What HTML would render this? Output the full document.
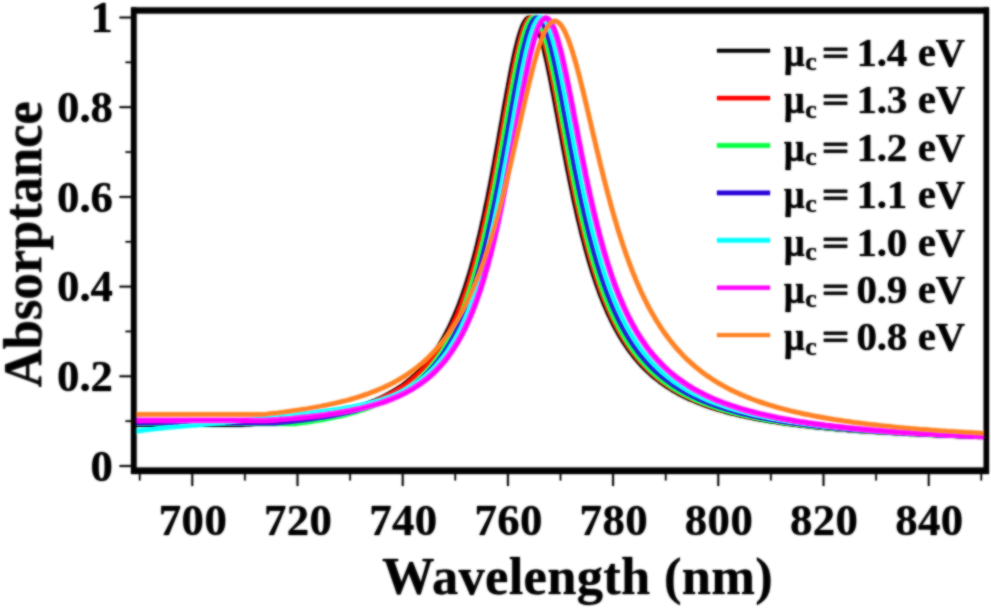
<!DOCTYPE html>
<html><head><meta charset="utf-8"><title>Absorptance vs Wavelength</title>
<style>
html,body{margin:0;padding:0;background:#fff;}
body{width:991px;height:609px;overflow:hidden;}
svg{display:block;}
svg text{font-family:"Liberation Serif","Times New Roman",serif;font-weight:bold;fill:#000;}
</style></head><body>
<svg width="991" height="609" viewBox="0 0 991 609">
<defs><filter id="soft" x="0" y="0" width="991" height="609" filterUnits="userSpaceOnUse"><feGaussianBlur stdDeviation="0.8"/></filter></defs>
<rect width="991" height="609" fill="#fff"/>
<use href="#chart" filter="url(#soft)"/>
<g opacity="0.45"><g id="chart">
<g id="curves">
<polyline points="136.0,425.2 138.8,425.2 141.7,425.2 144.5,425.2 147.4,425.2 150.2,425.2 153.0,425.2 155.9,425.2 158.7,425.2 161.5,425.2 164.4,425.2 167.2,425.2 170.1,425.2 172.9,425.2 175.7,425.2 178.6,425.2 181.4,425.2 184.2,425.2 187.1,425.2 189.9,425.2 192.8,425.2 195.6,425.2 198.4,425.2 201.3,425.2 204.1,425.2 206.9,425.2 209.8,425.2 212.6,425.2 215.5,425.2 218.3,425.2 221.1,425.2 224.0,425.2 226.8,425.2 229.6,425.2 232.5,425.2 235.3,425.2 238.2,425.2 241.0,425.1 243.8,424.9 246.7,424.7 249.5,424.5 252.3,424.3 255.2,424.0 258.0,423.8 260.9,423.5 263.7,423.3 266.5,423.0 269.4,422.7 272.2,422.4 275.1,422.1 277.9,421.8 280.7,421.5 283.6,421.2 286.4,420.9 289.2,420.5 292.1,420.2 294.9,419.8 297.8,419.4 300.6,419.0 303.4,418.6 306.3,418.2 309.1,417.7 311.9,417.2 314.8,416.8 317.6,416.3 320.5,415.8 323.3,415.2 326.1,414.7 329.0,414.1 331.8,413.5 334.6,412.8 337.5,412.2 340.3,411.5 343.2,410.8 346.0,410.0 348.8,409.3 351.7,408.5 354.5,407.6 357.3,406.7 360.2,405.8 363.0,404.8 365.9,403.8 368.7,402.7 371.5,401.6 374.4,400.5 377.2,399.2 380.1,397.9 382.9,396.6 385.7,395.1 388.6,393.6 391.4,392.0 394.2,390.3 397.1,388.5 399.9,386.7 402.8,384.7 405.6,382.6 408.4,380.3 411.3,378.0 414.1,375.5 416.9,372.8 419.8,369.9 422.6,366.9 425.5,363.7 428.3,360.3 431.1,356.6 434.0,352.7 436.8,348.5 439.6,344.1 442.5,339.3 445.3,334.2 448.2,328.7 451.0,322.8 453.8,316.5 455.3,313.1 456.2,310.8 456.7,309.7 457.2,308.5 458.1,306.2 459.0,303.8 459.5,302.5 459.9,301.4 460.9,298.8 461.8,296.3 462.3,294.7 462.7,293.7 463.6,291.0 464.6,288.2 465.2,286.3 465.5,285.4 466.4,282.5 467.3,279.6 468.0,277.3 468.3,276.6 469.2,273.5 470.1,270.4 470.9,267.7 471.0,267.2 472.0,263.9 472.9,260.5 473.7,257.5 473.8,257.1 474.7,253.6 475.7,250.0 476.5,246.5 476.6,246.3 477.5,242.6 478.4,238.8 479.4,234.9 479.4,234.8 480.3,230.9 481.2,226.9 482.1,222.7 482.2,222.4 483.1,218.5 484.0,214.3 484.9,209.9 485.0,209.2 485.8,205.5 486.8,201.0 487.7,196.4 487.9,195.4 488.6,191.7 489.5,187.0 490.5,182.2 490.7,180.8 491.4,177.4 492.3,172.5 493.2,167.5 493.6,165.7 494.2,162.5 495.1,157.4 496.0,152.3 496.4,150.1 496.9,147.2 497.9,142.0 498.8,136.8 499.2,134.2 499.7,131.5 500.6,126.3 501.6,121.0 502.1,118.1 502.5,115.8 503.4,110.6 504.3,105.3 504.9,102.1 505.3,100.2 506.2,95.0 507.1,90.0 507.8,86.5 508.0,85.0 509.0,80.0 509.9,75.2 510.6,71.6 510.8,70.5 511.7,65.9 512.7,61.4 513.4,57.8 513.6,57.1 514.5,52.9 515.4,48.9 516.3,45.5 516.4,45.1 517.3,41.5 518.2,38.1 519.1,35.0 519.1,34.9 520.1,31.9 521.0,29.2 521.9,26.8 521.9,26.7 522.8,24.6 523.8,22.7 524.7,21.1 524.8,21.0 525.6,19.8 526.5,18.8 527.5,18.0 527.6,17.9 528.4,17.6 529.3,17.5 530.2,17.7 530.5,17.8 531.2,18.1 532.1,18.9 533.0,19.9 533.3,20.2 533.9,21.1 534.9,22.7 535.8,24.5 536.1,25.2 536.7,26.6 537.6,28.9 538.6,31.4 539.0,32.6 539.5,34.2 540.4,37.2 541.3,40.3 541.8,42.0 542.3,43.7 543.2,47.3 544.1,51.1 544.6,53.3 545.0,55.0 546.0,59.0 546.9,63.2 547.5,66.0 547.8,67.5 548.7,72.0 549.7,76.5 550.3,79.8 550.6,81.1 551.5,85.8 552.4,90.6 553.2,94.3 553.4,95.4 554.3,100.3 555.2,105.2 556.0,109.4 556.1,110.2 557.1,115.1 558.0,120.1 558.8,124.6 558.9,125.1 559.8,130.0 560.8,135.0 561.7,139.8 561.7,139.9 562.6,144.8 563.5,149.7 564.5,154.6 564.5,154.8 565.4,159.4 566.3,164.2 567.2,168.9 567.3,169.4 568.2,173.5 569.1,178.2 570.0,182.7 570.2,183.5 570.9,187.2 571.9,191.6 572.8,196.0 573.0,197.1 573.7,200.3 574.6,204.6 575.6,208.7 575.9,210.0 576.5,212.8 577.4,216.9 578.3,220.8 578.7,222.3 579.3,224.7 580.2,228.5 581.1,232.3 581.5,234.0 582.0,236.0 583.0,239.6 583.9,243.1 584.4,245.0 584.8,246.6 585.7,250.0 586.7,253.4 587.2,255.3 587.6,256.7 588.5,259.9 589.4,263.0 590.0,265.0 590.4,266.1 591.3,269.1 592.2,272.1 592.9,274.2 593.1,275.0 594.1,277.8 595.0,280.6 595.7,282.7 595.9,283.3 596.8,285.9 597.8,288.5 598.6,290.7 598.7,291.1 599.6,293.6 600.5,296.0 601.4,298.2 601.5,298.4 602.4,300.8 603.3,303.0 604.2,305.3 604.2,305.3 605.2,307.5 606.1,309.6 607.0,311.7 607.1,311.9 607.9,313.8 608.9,315.8 609.8,317.8 609.9,318.0 610.7,319.7 611.6,321.6 612.6,323.4 612.7,323.8 613.5,325.3 614.4,327.0 615.3,328.8 615.6,329.2 616.3,330.5 617.2,332.1 618.1,333.8 618.4,334.3 619.0,335.4 620.0,336.9 620.9,338.5 621.3,339.1 621.8,340.0 622.7,341.4 623.7,342.9 624.1,343.5 624.6,344.3 625.5,345.7 626.4,347.0 626.9,347.8 627.4,348.4 628.3,349.7 629.2,351.0 629.8,351.7 630.1,352.2 631.1,353.4 632.0,354.6 632.6,355.4 632.9,355.8 633.8,357.0 634.8,358.1 635.5,358.9 635.7,359.2 636.6,360.3 637.5,361.4 638.3,362.3 638.5,362.5 639.4,363.5 641.1,365.4 644.0,368.3 646.8,371.1 649.6,373.7 652.5,376.2 655.3,378.6 658.2,380.8 661.0,383.0 663.8,385.0 666.7,386.9 669.5,388.7 672.3,390.5 675.2,392.1 678.0,393.7 680.9,395.2 683.7,396.7 686.5,398.1 689.4,399.4 692.2,400.6 695.0,401.8 697.9,403.0 700.7,404.1 703.6,405.2 706.4,406.2 709.2,407.2 712.1,408.1 714.9,409.0 717.7,409.9 720.6,410.7 723.4,411.5 726.3,412.3 729.1,413.1 731.9,413.8 734.8,414.5 737.6,415.2 740.4,415.8 743.3,416.5 746.1,417.1 749.0,417.7 751.8,418.2 754.6,418.8 757.5,419.3 760.3,419.8 763.2,420.3 766.0,420.8 768.8,421.3 771.7,421.8 774.5,422.2 777.3,422.6 780.2,423.1 783.0,423.5 785.9,423.9 788.7,424.3 791.5,424.6 794.4,425.0 797.2,425.4 800.0,425.7 802.9,426.0 805.7,426.4 808.6,426.7 811.4,427.0 814.2,427.3 817.1,427.6 819.9,427.9 822.7,428.2 825.6,428.4 828.4,428.7 831.3,429.0 834.1,429.2 836.9,429.5 839.8,429.7 842.6,429.9 845.4,430.2 848.3,430.4 851.1,430.6 854.0,430.8 856.8,431.0 859.6,431.3 862.5,431.5 865.3,431.7 868.2,431.8 871.0,432.0 873.8,432.2 876.7,432.4 879.5,432.6 882.3,432.7 885.2,432.9 888.0,433.1 890.9,433.2 893.7,433.4 896.5,433.6 899.4,433.7 902.2,433.9 905.0,434.0 907.9,434.2 910.7,434.3 913.6,434.4 916.4,434.6 919.2,434.7 922.1,434.8 924.9,435.0 927.7,435.1 930.6,435.2 933.4,435.3 936.3,435.5 939.1,435.6 941.9,435.7 944.8,435.8 947.6,435.9 950.4,436.0 953.3,436.1 956.1,436.2 959.0,436.3 961.8,436.4 964.6,436.5 967.5,436.6 970.3,436.7 973.1,436.8 976.0,436.9 978.8,437.0 981.7,437.1 984.5,437.2" fill="none" stroke="#000000" stroke-width="3.8" stroke-linejoin="round"/>
<polyline points="136.0,423.8 138.8,423.8 141.7,423.8 144.5,423.8 147.4,423.8 150.2,423.8 153.0,423.8 155.9,423.8 158.7,423.8 161.5,423.8 164.4,423.8 167.2,423.8 170.1,423.8 172.9,423.8 175.7,423.8 178.6,423.8 181.4,423.8 184.2,423.8 187.1,423.8 189.9,423.8 192.8,423.8 195.6,423.8 198.4,423.8 201.3,423.8 204.1,423.8 206.9,423.8 209.8,423.8 212.6,423.8 215.5,423.8 218.3,423.8 221.1,423.8 224.0,423.8 226.8,423.8 229.6,423.8 232.5,423.8 235.3,423.8 238.2,423.8 241.0,423.8 243.8,423.8 246.7,423.8 249.5,423.8 252.3,423.8 255.2,423.8 258.0,423.6 260.9,423.4 263.7,423.1 266.5,422.9 269.4,422.6 272.2,422.3 275.1,422.1 277.9,421.8 280.7,421.5 283.6,421.1 286.4,420.8 289.2,420.5 292.1,420.1 294.9,419.8 297.8,419.4 300.6,419.0 303.4,418.6 306.3,418.2 309.1,417.8 311.9,417.3 314.8,416.9 317.6,416.4 320.5,415.9 323.3,415.4 326.1,414.8 329.0,414.3 331.8,413.7 334.6,413.1 337.5,412.5 340.3,411.8 343.2,411.1 346.0,410.4 348.8,409.7 351.7,408.9 354.5,408.1 357.3,407.2 360.2,406.3 363.0,405.4 365.9,404.4 368.7,403.4 371.5,402.3 374.4,401.2 377.2,400.0 380.1,398.8 382.9,397.5 385.7,396.1 388.6,394.6 391.4,393.1 394.2,391.5 397.1,389.8 399.9,388.0 402.8,386.1 405.6,384.1 408.4,382.0 411.3,379.7 414.1,377.3 416.9,374.8 419.8,372.1 422.6,369.2 425.5,366.2 428.3,362.9 431.1,359.4 434.0,355.7 436.8,351.7 439.6,347.5 442.5,343.0 445.3,338.1 448.2,332.9 451.0,327.3 453.8,321.3 455.3,318.1 456.2,316.0 456.7,314.9 457.2,313.8 458.1,311.6 459.0,309.3 459.5,308.0 459.9,307.0 460.9,304.6 461.8,302.2 462.3,300.6 462.7,299.7 463.6,297.1 464.6,294.5 465.2,292.7 465.5,291.8 466.4,289.1 467.3,286.3 468.0,284.2 468.3,283.5 469.2,280.5 470.1,277.5 470.9,275.1 471.0,274.5 472.0,271.4 472.9,268.2 473.7,265.3 473.8,264.9 474.7,261.6 475.7,258.1 476.5,254.8 476.6,254.6 477.5,251.1 478.4,247.4 479.4,243.7 479.4,243.6 480.3,239.9 481.2,236.1 482.1,232.1 482.2,231.8 483.1,228.1 484.0,224.0 484.9,219.8 485.0,219.1 485.8,215.5 486.8,211.2 487.7,206.8 487.9,205.8 488.6,202.3 489.5,197.7 490.5,193.1 490.7,191.7 491.4,188.4 492.3,183.6 493.2,178.8 493.6,177.0 494.2,173.9 495.1,168.9 496.0,163.9 496.4,161.7 496.9,158.8 497.9,153.7 498.8,148.6 499.2,146.0 499.7,143.4 500.6,138.2 501.6,132.9 502.1,130.0 502.5,127.7 503.4,122.4 504.3,117.2 504.9,113.9 505.3,112.0 506.2,106.7 507.1,101.6 507.8,98.0 508.0,96.4 509.0,91.3 509.9,86.3 510.6,82.5 510.8,81.4 511.7,76.5 512.7,71.7 513.4,67.9 513.6,67.1 514.5,62.6 515.4,58.2 516.3,54.4 516.4,54.0 517.3,50.0 518.2,46.1 519.1,42.5 519.1,42.4 520.1,39.0 521.0,35.7 521.9,32.7 521.9,32.6 522.8,29.9 523.8,27.4 524.7,25.2 524.8,25.0 525.6,23.2 526.5,21.5 527.5,20.1 527.6,19.9 528.4,19.0 529.3,18.2 530.2,17.7 530.5,17.6 531.2,17.5 532.1,17.6 533.0,18.0 533.3,18.1 533.9,18.6 534.9,19.6 535.8,20.8 536.1,21.3 536.7,22.3 537.6,24.0 538.6,26.0 539.0,27.0 539.5,28.2 540.4,30.7 541.3,33.4 541.8,34.9 542.3,36.4 543.2,39.5 544.1,42.9 544.6,44.9 545.0,46.4 546.0,50.1 546.9,54.0 547.5,56.6 547.8,58.0 548.7,62.2 549.7,66.5 550.3,69.6 550.6,70.9 551.5,75.4 552.4,80.1 553.2,83.7 553.4,84.8 554.3,89.5 555.2,94.3 556.0,98.4 556.1,99.2 557.1,104.1 558.0,109.1 558.8,113.6 558.9,114.0 559.8,119.0 560.8,124.0 561.7,128.8 561.7,129.0 562.6,133.9 563.5,138.9 564.5,143.8 564.5,144.0 565.4,148.7 566.3,153.6 567.2,158.4 567.3,158.9 568.2,163.2 569.1,167.9 570.0,172.6 570.2,173.4 570.9,177.2 571.9,181.8 572.8,186.3 573.0,187.4 573.7,190.7 574.6,195.1 575.6,199.4 575.9,200.8 576.5,203.7 577.4,207.9 578.3,212.0 578.7,213.5 579.3,216.0 580.2,220.0 581.1,223.9 581.5,225.7 582.0,227.8 583.0,231.5 583.9,235.2 584.4,237.1 584.8,238.9 585.7,242.4 586.7,245.9 587.2,247.9 587.6,249.3 588.5,252.7 589.4,256.0 590.0,258.1 590.4,259.2 591.3,262.3 592.2,265.4 592.9,267.6 593.1,268.5 594.1,271.4 595.0,274.3 595.7,276.6 595.9,277.2 596.8,280.0 597.8,282.7 598.6,285.0 598.7,285.3 599.6,288.0 600.5,290.5 601.4,292.8 601.5,293.0 602.4,295.5 603.3,297.9 604.2,300.2 604.2,300.2 605.2,302.5 606.1,304.7 607.0,306.9 607.1,307.1 607.9,309.1 608.9,311.2 609.8,313.3 609.9,313.5 610.7,315.3 611.6,317.3 612.6,319.2 612.7,319.6 613.5,321.1 614.4,323.0 615.3,324.8 615.6,325.2 616.3,326.5 617.2,328.3 618.1,330.0 618.4,330.5 619.0,331.7 620.0,333.3 620.9,334.9 621.3,335.5 621.8,336.5 622.7,338.0 623.7,339.5 624.1,340.2 624.6,341.0 625.5,342.4 626.4,343.8 626.9,344.6 627.4,345.2 628.3,346.6 629.2,347.9 629.8,348.7 630.1,349.2 631.1,350.5 632.0,351.8 632.6,352.6 632.9,353.0 633.8,354.2 634.8,355.4 635.5,356.3 635.7,356.6 636.6,357.7 637.5,358.8 638.3,359.7 638.5,359.9 639.4,361.0 641.1,362.9 644.0,366.0 646.8,368.9 649.6,371.6 652.5,374.2 655.3,376.7 658.2,379.0 661.0,381.2 663.8,383.3 666.7,385.3 669.5,387.2 672.3,389.0 675.2,390.7 678.0,392.3 680.9,393.9 683.7,395.4 686.5,396.8 689.4,398.2 692.2,399.5 695.0,400.7 697.9,401.9 700.7,403.1 703.6,404.2 706.4,405.2 709.2,406.2 712.1,407.2 714.9,408.1 717.7,409.0 720.6,409.9 723.4,410.7 726.3,411.5 729.1,412.3 731.9,413.1 734.8,413.8 737.6,414.5 740.4,415.1 743.3,415.8 746.1,416.4 749.0,417.0 751.8,417.6 754.6,418.2 757.5,418.7 760.3,419.3 763.2,419.8 766.0,420.3 768.8,420.8 771.7,421.2 774.5,421.7 777.3,422.1 780.2,422.6 783.0,423.0 785.9,423.4 788.7,423.8 791.5,424.2 794.4,424.6 797.2,424.9 800.0,425.3 802.9,425.6 805.7,426.0 808.6,426.3 811.4,426.6 814.2,426.9 817.1,427.2 819.9,427.5 822.7,427.8 825.6,428.1 828.4,428.4 831.3,428.6 834.1,428.9 836.9,429.1 839.8,429.4 842.6,429.6 845.4,429.9 848.3,430.1 851.1,430.3 854.0,430.5 856.8,430.8 859.6,431.0 862.5,431.2 865.3,431.4 868.2,431.6 871.0,431.8 873.8,432.0 876.7,432.1 879.5,432.3 882.3,432.5 885.2,432.7 888.0,432.9 890.9,433.0 893.7,433.2 896.5,433.3 899.4,433.5 902.2,433.7 905.0,433.8 907.9,434.0 910.7,434.1 913.6,434.2 916.4,434.4 919.2,434.5 922.1,434.7 924.9,434.8 927.7,434.9 930.6,435.0 933.4,435.2 936.3,435.3 939.1,435.4 941.9,435.5 944.8,435.6 947.6,435.7 950.4,435.9 953.3,436.0 956.1,436.1 959.0,436.2 961.8,436.3 964.6,436.4 967.5,436.5 970.3,436.6 973.1,436.7 976.0,436.8 978.8,436.9 981.7,437.0 984.5,437.1" fill="none" stroke="#ff0000" stroke-width="4.2" stroke-linejoin="round"/>
<polyline points="136.0,423.8 138.8,423.8 141.7,423.8 144.5,423.8 147.4,423.8 150.2,423.8 153.0,423.8 155.9,423.8 158.7,423.8 161.5,423.8 164.4,423.8 167.2,423.8 170.1,423.8 172.9,423.8 175.7,423.8 178.6,423.8 181.4,423.8 184.2,423.8 187.1,423.8 189.9,423.8 192.8,423.8 195.6,423.8 198.4,423.8 201.3,423.8 204.1,423.8 206.9,423.8 209.8,423.8 212.6,423.8 215.5,423.8 218.3,423.8 221.1,423.8 224.0,423.8 226.8,423.8 229.6,423.8 232.5,423.8 235.3,423.8 238.2,423.8 241.0,423.8 243.8,423.8 246.7,423.8 249.5,423.8 252.3,423.8 255.2,423.8 258.0,423.8 260.9,423.8 263.7,423.8 266.5,423.8 269.4,423.8 272.2,423.8 275.1,423.8 277.9,423.8 280.7,423.8 283.6,423.8 286.4,423.8 289.2,423.8 292.1,423.8 294.9,423.8 297.8,423.4 300.6,423.1 303.4,422.7 306.3,422.3 309.1,421.9 311.9,421.4 314.8,421.0 317.6,420.5 320.5,420.1 323.3,419.6 326.1,419.0 329.0,418.5 331.8,417.9 334.6,417.3 337.5,416.7 340.3,416.1 343.2,415.4 346.0,414.8 348.8,414.0 351.7,413.3 354.5,412.5 357.3,411.7 360.2,410.8 363.0,409.9 365.9,409.0 368.7,408.0 371.5,407.0 374.4,405.9 377.2,404.8 380.1,403.6 382.9,402.3 385.7,401.0 388.6,399.6 391.4,398.1 394.2,396.6 397.1,395.0 399.9,393.2 402.8,391.4 405.6,389.5 408.4,387.4 411.3,385.3 414.1,383.0 416.9,380.5 419.8,378.0 422.6,375.2 425.5,372.3 428.3,369.2 431.1,365.8 434.0,362.3 436.8,358.5 439.6,354.4 442.5,350.1 445.3,345.4 448.2,340.4 451.0,335.1 453.8,329.4 455.3,326.3 456.2,324.2 456.7,323.2 457.2,322.1 458.1,320.0 459.0,317.8 459.5,316.6 459.9,315.6 460.9,313.3 461.8,311.0 462.3,309.5 462.7,308.6 463.6,306.2 464.6,303.7 465.2,301.9 465.5,301.1 466.4,298.5 467.3,295.8 468.0,293.8 468.3,293.1 469.2,290.3 470.1,287.4 470.9,285.0 471.0,284.4 472.0,281.4 472.9,278.4 473.7,275.6 473.8,275.2 474.7,272.0 475.7,268.7 476.5,265.5 476.6,265.4 477.5,261.9 478.4,258.4 479.4,254.8 479.4,254.7 480.3,251.1 481.2,247.4 482.1,243.6 482.2,243.2 483.1,239.7 484.0,235.7 484.9,231.6 485.0,231.0 485.8,227.5 486.8,223.3 487.7,219.0 487.9,218.0 488.6,214.6 489.5,210.2 490.5,205.6 490.7,204.3 491.4,201.0 492.3,196.4 493.2,191.6 493.6,189.9 494.2,186.8 495.1,181.9 496.0,177.0 496.4,174.8 496.9,172.0 497.9,166.9 498.8,161.8 499.2,159.2 499.7,156.6 500.6,151.4 501.6,146.2 502.1,143.2 502.5,140.9 503.4,135.6 504.3,130.3 504.9,127.0 505.3,125.0 506.2,119.7 507.1,114.4 507.8,110.7 508.0,109.1 509.0,103.8 509.9,98.6 510.6,94.7 510.8,93.5 511.7,88.4 512.7,83.3 513.4,79.2 513.6,78.4 514.5,73.6 515.4,68.8 516.3,64.7 516.4,64.3 517.3,59.8 518.2,55.5 519.1,51.5 519.1,51.4 520.1,47.4 521.0,43.6 521.9,40.1 521.9,40.0 522.8,36.8 523.8,33.7 524.7,30.8 524.8,30.5 525.6,28.2 526.5,25.9 527.5,23.8 527.6,23.5 528.4,22.0 529.3,20.5 530.2,19.3 530.5,19.1 531.2,18.4 532.1,17.8 533.0,17.5 533.3,17.5 533.9,17.5 534.9,17.9 535.8,18.4 536.1,18.7 536.7,19.3 537.6,20.5 538.6,21.9 539.0,22.6 539.5,23.6 540.4,25.5 541.3,27.7 541.8,28.9 542.3,30.2 543.2,32.9 544.1,35.8 544.6,37.6 545.0,38.9 546.0,42.3 546.9,45.8 547.5,48.1 547.8,49.5 548.7,53.4 549.7,57.4 550.3,60.3 550.6,61.6 551.5,65.9 552.4,70.3 553.2,73.8 553.4,74.8 554.3,79.5 555.2,84.2 556.0,88.2 556.1,89.0 557.1,93.8 558.0,98.7 558.8,103.2 558.9,103.6 559.8,108.6 560.8,113.6 561.7,118.5 561.7,118.6 562.6,123.6 563.5,128.6 564.5,133.6 564.5,133.8 565.4,138.6 566.3,143.5 567.2,148.5 567.3,149.0 568.2,153.4 569.1,158.2 570.0,163.0 570.2,163.9 570.9,167.8 571.9,172.5 572.8,177.1 573.0,178.3 573.7,181.7 574.6,186.2 575.6,190.7 575.9,192.1 576.5,195.1 577.4,199.5 578.3,203.7 578.7,205.3 579.3,207.9 580.2,212.1 581.1,216.1 581.5,217.9 582.0,220.1 583.0,224.0 583.9,227.9 584.4,229.8 584.8,231.7 585.7,235.4 586.7,239.0 587.2,241.1 587.6,242.6 588.5,246.1 589.4,249.5 590.0,251.7 590.4,252.9 591.3,256.1 592.2,259.4 592.9,261.7 593.1,262.5 594.1,265.6 595.0,268.7 595.7,271.0 595.9,271.6 596.8,274.5 597.8,277.4 598.6,279.8 598.7,280.2 599.6,282.9 600.5,285.6 601.4,288.0 601.5,288.2 602.4,290.7 603.3,293.2 604.2,295.6 604.2,295.7 605.2,298.1 606.1,300.4 607.0,302.7 607.1,302.8 607.9,304.9 608.9,307.1 609.8,309.3 609.9,309.6 610.7,311.4 611.6,313.5 612.6,315.5 612.7,315.9 613.5,317.4 614.4,319.4 615.3,321.3 615.6,321.8 616.3,323.1 617.2,324.9 618.1,326.7 618.4,327.3 619.0,328.5 620.0,330.2 620.9,331.8 621.3,332.5 621.8,333.5 622.7,335.0 623.7,336.6 624.1,337.3 624.6,338.1 625.5,339.7 626.4,341.1 626.9,341.9 627.4,342.6 628.3,344.0 629.2,345.4 629.8,346.2 630.1,346.7 631.1,348.1 632.0,349.4 632.6,350.2 632.9,350.6 633.8,351.9 634.8,353.1 635.5,354.0 635.7,354.3 636.6,355.5 637.5,356.7 638.3,357.6 638.5,357.8 639.4,358.9 641.1,360.9 644.0,364.1 646.8,367.1 649.6,369.9 652.5,372.6 655.3,375.2 658.2,377.6 661.0,379.8 663.8,382.0 666.7,384.1 669.5,386.0 672.3,387.9 675.2,389.6 678.0,391.3 680.9,392.9 683.7,394.5 686.5,395.9 689.4,397.3 692.2,398.7 695.0,400.0 697.9,401.2 700.7,402.4 703.6,403.5 706.4,404.6 709.2,405.6 712.1,406.6 714.9,407.6 717.7,408.5 720.6,409.4 723.4,410.3 726.3,411.1 729.1,411.9 731.9,412.6 734.8,413.4 737.6,414.1 740.4,414.8 743.3,415.5 746.1,416.1 749.0,416.7 751.8,417.3 754.6,417.9 757.5,418.5 760.3,419.0 763.2,419.6 766.0,420.1 768.8,420.6 771.7,421.1 774.5,421.5 777.3,422.0 780.2,422.4 783.0,422.9 785.9,423.3 788.7,423.7 791.5,424.1 794.4,424.5 797.2,424.9 800.0,425.2 802.9,425.6 805.7,425.9 808.6,426.3 811.4,426.6 814.2,426.9 817.1,427.2 819.9,427.5 822.7,427.8 825.6,428.1 828.4,428.4 831.3,428.7 834.1,428.9 836.9,429.2 839.8,429.5 842.6,429.7 845.4,429.9 848.3,430.2 851.1,430.4 854.0,430.6 856.8,430.9 859.6,431.1 862.5,431.3 865.3,431.5 868.2,431.7 871.0,431.9 873.8,432.1 876.7,432.3 879.5,432.5 882.3,432.7 885.2,432.8 888.0,433.0 890.9,433.2 893.7,433.4 896.5,433.5 899.4,433.7 902.2,433.8 905.0,434.0 907.9,434.1 910.7,434.3 913.6,434.4 916.4,434.6 919.2,434.7 922.1,434.9 924.9,435.0 927.7,435.1 930.6,435.3 933.4,435.4 936.3,435.5 939.1,435.6 941.9,435.8 944.8,435.9 947.6,436.0 950.4,436.1 953.3,436.2 956.1,436.3 959.0,436.4 961.8,436.5 964.6,436.7 967.5,436.8 970.3,436.9 973.1,437.0 976.0,437.1 978.8,437.1 981.7,437.2 984.5,437.3" fill="none" stroke="#00ff40" stroke-width="4.2" stroke-linejoin="round"/>
<polyline points="136.0,423.4 138.8,423.4 141.7,423.4 144.5,423.4 147.4,423.4 150.2,423.4 153.0,423.4 155.9,423.4 158.7,423.4 161.5,423.4 164.4,423.4 167.2,423.4 170.1,423.4 172.9,423.4 175.7,423.4 178.6,423.4 181.4,423.4 184.2,423.4 187.1,423.4 189.9,423.4 192.8,423.4 195.6,423.4 198.4,423.4 201.3,423.4 204.1,423.4 206.9,423.4 209.8,423.4 212.6,423.4 215.5,423.4 218.3,423.4 221.1,423.4 224.0,423.4 226.8,423.4 229.6,423.4 232.5,423.4 235.3,423.4 238.2,423.4 241.0,423.4 243.8,423.4 246.7,423.4 249.5,423.4 252.3,423.4 255.2,423.4 258.0,423.4 260.9,423.4 263.7,423.4 266.5,423.4 269.4,423.4 272.2,423.4 275.1,423.4 277.9,423.2 280.7,423.0 283.6,422.7 286.4,422.4 289.2,422.1 292.1,421.8 294.9,421.5 297.8,421.1 300.6,420.8 303.4,420.4 306.3,420.1 309.1,419.7 311.9,419.3 314.8,418.9 317.6,418.5 320.5,418.0 323.3,417.6 326.1,417.1 329.0,416.6 331.8,416.1 334.6,415.6 337.5,415.0 340.3,414.4 343.2,413.8 346.0,413.2 348.8,412.6 351.7,411.9 354.5,411.2 357.3,410.4 360.2,409.6 363.0,408.8 365.9,408.0 368.7,407.1 371.5,406.1 374.4,405.1 377.2,404.1 380.1,403.0 382.9,401.9 385.7,400.7 388.6,399.4 391.4,398.1 394.2,396.7 397.1,395.2 399.9,393.6 402.8,392.0 405.6,390.2 408.4,388.3 411.3,386.4 414.1,384.3 416.9,382.1 419.8,379.7 422.6,377.2 425.5,374.5 428.3,371.7 431.1,368.6 434.0,365.4 436.8,361.9 439.6,358.2 442.5,354.3 445.3,350.0 448.2,345.5 451.0,340.6 453.8,335.4 455.3,332.5 456.2,330.7 456.7,329.7 457.2,328.8 458.1,326.8 459.0,324.8 459.5,323.7 459.9,322.8 460.9,320.7 461.8,318.5 462.3,317.2 462.7,316.4 463.6,314.1 464.6,311.8 465.2,310.2 465.5,309.5 466.4,307.1 467.3,304.6 468.0,302.7 468.3,302.1 469.2,299.5 470.1,296.9 470.9,294.6 471.0,294.1 472.0,291.4 472.9,288.5 473.7,286.0 473.8,285.6 474.7,282.7 475.7,279.6 476.5,276.7 476.6,276.5 477.5,273.4 478.4,270.1 479.4,266.8 479.4,266.7 480.3,263.4 481.2,259.9 482.1,256.4 482.2,256.0 483.1,252.7 484.0,249.0 484.9,245.2 485.0,244.6 485.8,241.4 486.8,237.4 487.7,233.4 487.9,232.5 488.6,229.3 489.5,225.1 490.5,220.9 490.7,219.6 491.4,216.5 492.3,212.1 493.2,207.6 493.6,206.0 494.2,203.1 495.1,198.4 496.0,193.7 496.4,191.7 496.9,188.9 497.9,184.1 498.8,179.2 499.2,176.7 499.7,174.2 500.6,169.2 501.6,164.1 502.1,161.2 502.5,159.0 503.4,153.8 504.3,148.6 504.9,145.3 505.3,143.3 506.2,138.1 507.1,132.8 507.8,129.1 508.0,127.5 509.0,122.2 509.9,116.9 510.6,112.9 510.8,111.6 511.7,106.4 512.7,101.2 513.4,96.9 513.6,96.0 514.5,90.9 515.4,85.9 516.3,81.4 516.4,80.9 517.3,76.1 518.2,71.3 519.1,66.8 519.1,66.7 520.1,62.2 521.0,57.8 521.9,53.6 521.9,53.5 522.8,49.6 523.8,45.7 524.7,42.1 524.8,41.8 525.6,38.7 526.5,35.5 527.5,32.5 527.6,32.0 528.4,29.7 529.3,27.3 530.2,25.0 530.5,24.6 531.2,23.1 532.1,21.4 533.0,20.1 533.3,19.7 533.9,19.0 534.9,18.2 535.8,17.7 536.1,17.6 536.7,17.5 537.6,17.6 538.6,18.0 539.0,18.3 539.5,18.7 540.4,19.6 541.3,20.9 541.8,21.6 542.3,22.4 543.2,24.2 544.1,26.2 544.6,27.5 545.0,28.5 546.0,31.0 546.9,33.8 547.5,35.7 547.8,36.8 548.7,40.0 549.7,43.4 550.3,45.9 550.6,47.0 551.5,50.8 552.4,54.7 553.2,57.9 553.4,58.8 554.3,63.0 555.2,67.4 556.0,71.1 556.1,71.8 557.1,76.4 558.0,81.1 558.8,85.4 558.9,85.8 559.8,90.6 560.8,95.5 561.7,100.3 561.7,100.4 562.6,105.4 563.5,110.3 564.5,115.3 564.5,115.6 565.4,120.3 566.3,125.4 567.2,130.4 567.3,130.9 568.2,135.3 569.1,140.3 570.0,145.2 570.2,146.1 570.9,150.2 571.9,155.0 572.8,159.9 573.0,161.0 573.7,164.6 574.6,169.4 575.6,174.0 575.9,175.5 576.5,178.7 577.4,183.2 578.3,187.7 578.7,189.4 579.3,192.2 580.2,196.5 581.1,200.9 581.5,202.8 582.0,205.1 583.0,209.3 583.9,213.4 584.4,215.4 584.8,217.4 585.7,221.3 586.7,225.2 587.2,227.5 587.6,229.0 588.5,232.8 589.4,236.5 590.0,238.8 590.4,240.1 591.3,243.6 592.2,247.0 592.9,249.5 593.1,250.4 594.1,253.8 595.0,257.0 595.7,259.5 595.9,260.2 596.8,263.3 597.8,266.4 598.6,269.0 598.7,269.4 599.6,272.3 600.5,275.2 601.4,277.8 601.5,278.0 602.4,280.8 603.3,283.4 604.2,286.1 604.2,286.1 605.2,288.7 606.1,291.2 607.0,293.7 607.1,293.8 607.9,296.1 608.9,298.4 609.8,300.8 609.9,301.0 610.7,303.0 611.6,305.2 612.6,307.4 612.7,307.8 613.5,309.5 614.4,311.6 615.3,313.7 615.6,314.2 616.3,315.7 617.2,317.6 618.1,319.5 618.4,320.1 619.0,321.4 620.0,323.2 620.9,325.0 621.3,325.7 621.8,326.8 622.7,328.5 623.7,330.2 624.1,330.9 624.6,331.8 625.5,333.4 626.4,335.0 626.9,335.8 627.4,336.5 628.3,338.1 629.2,339.5 629.8,340.4 630.1,341.0 631.1,342.4 632.0,343.8 632.6,344.7 632.9,345.2 633.8,346.5 634.8,347.9 635.5,348.8 635.7,349.1 636.6,350.4 637.5,351.7 638.3,352.6 638.5,352.9 639.4,354.1 641.1,356.2 644.0,359.6 646.8,362.8 649.6,365.8 652.5,368.7 655.3,371.4 658.2,374.0 661.0,376.4 663.8,378.7 666.7,380.9 669.5,382.9 672.3,384.9 675.2,386.8 678.0,388.6 680.9,390.3 683.7,391.9 686.5,393.5 689.4,394.9 692.2,396.4 695.0,397.7 697.9,399.0 700.7,400.3 703.6,401.5 706.4,402.6 709.2,403.7 712.1,404.8 714.9,405.8 717.7,406.8 720.6,407.7 723.4,408.6 726.3,409.5 729.1,410.3 731.9,411.1 734.8,411.9 737.6,412.7 740.4,413.4 743.3,414.1 746.1,414.8 749.0,415.4 751.8,416.1 754.6,416.7 757.5,417.3 760.3,417.9 763.2,418.4 766.0,419.0 768.8,419.5 771.7,420.0 774.5,420.5 777.3,421.0 780.2,421.4 783.0,421.9 785.9,422.3 788.7,422.8 791.5,423.2 794.4,423.6 797.2,424.0 800.0,424.4 802.9,424.7 805.7,425.1 808.6,425.5 811.4,425.8 814.2,426.1 817.1,426.5 819.9,426.8 822.7,427.1 825.6,427.4 828.4,427.7 831.3,428.0 834.1,428.3 836.9,428.5 839.8,428.8 842.6,429.1 845.4,429.3 848.3,429.6 851.1,429.8 854.0,430.1 856.8,430.3 859.6,430.5 862.5,430.7 865.3,431.0 868.2,431.2 871.0,431.4 873.8,431.6 876.7,431.8 879.5,432.0 882.3,432.2 885.2,432.4 888.0,432.5 890.9,432.7 893.7,432.9 896.5,433.1 899.4,433.2 902.2,433.4 905.0,433.6 907.9,433.7 910.7,433.9 913.6,434.0 916.4,434.2 919.2,434.3 922.1,434.5 924.9,434.6 927.7,434.8 930.6,434.9 933.4,435.0 936.3,435.2 939.1,435.3 941.9,435.4 944.8,435.5 947.6,435.7 950.4,435.8 953.3,435.9 956.1,436.0 959.0,436.1 961.8,436.2 964.6,436.3 967.5,436.5 970.3,436.6 973.1,436.7 976.0,436.8 978.8,436.9 981.7,437.0 984.5,437.1" fill="none" stroke="#2800d8" stroke-width="4.2" stroke-linejoin="round"/>
<polyline points="136.0,431.2 138.8,430.7 141.7,430.4 144.5,430.0 147.4,429.6 150.2,429.3 153.0,429.0 155.9,428.6 158.7,428.3 161.5,428.1 164.4,427.8 167.2,427.5 170.1,427.2 172.9,427.0 175.7,426.7 178.6,426.5 181.4,426.2 184.2,426.0 187.1,425.8 189.9,425.5 192.8,425.3 195.6,425.1 198.4,424.8 201.3,424.6 204.1,424.4 206.9,424.1 209.8,423.9 212.6,423.6 215.5,423.4 218.3,423.1 221.1,422.9 224.0,422.6 226.8,422.3 229.6,422.1 232.5,421.8 235.3,421.5 238.2,421.2 241.0,420.9 243.8,420.6 246.7,420.3 249.5,420.0 252.3,419.7 255.2,419.4 258.0,419.0 260.9,418.7 263.7,418.4 266.5,418.0 269.4,417.7 272.2,417.3 275.1,417.0 277.9,416.7 280.7,416.3 283.6,416.0 286.4,415.6 289.2,415.3 292.1,414.9 294.9,414.6 297.8,414.2 300.6,413.9 303.4,413.5 306.3,413.2 309.1,412.9 311.9,412.5 314.8,412.2 317.6,411.8 320.5,411.4 323.3,411.1 326.1,410.7 329.0,410.3 331.8,410.0 334.6,409.6 337.5,409.2 340.3,408.7 343.2,408.3 346.0,407.8 348.8,407.4 351.7,406.9 354.5,406.3 357.3,405.8 360.2,405.2 363.0,404.6 365.9,404.0 368.7,403.3 371.5,402.5 374.4,401.8 377.2,401.0 380.1,400.1 382.9,399.2 385.7,398.2 388.6,397.2 391.4,396.1 394.2,394.9 397.1,393.6 399.9,392.3 402.8,390.9 405.6,389.4 408.4,387.8 411.3,386.1 414.1,384.3 416.9,382.4 419.8,380.3 422.6,378.1 425.5,375.8 428.3,373.2 431.1,370.6 434.0,367.7 436.8,364.6 439.6,361.3 442.5,357.8 445.3,354.0 448.2,350.0 451.0,345.6 453.8,340.9 455.3,338.4 456.2,336.7 456.7,335.9 457.2,335.0 458.1,333.3 459.0,331.5 459.5,330.5 459.9,329.7 460.9,327.8 461.8,325.9 462.3,324.7 462.7,323.9 463.6,321.9 464.6,319.8 465.2,318.4 465.5,317.7 466.4,315.5 467.3,313.3 468.0,311.6 468.3,311.0 469.2,308.7 470.1,306.3 470.9,304.3 471.0,303.9 472.0,301.4 472.9,298.8 473.7,296.5 473.8,296.2 474.7,293.5 475.7,290.8 476.5,288.1 476.6,288.0 477.5,285.1 478.4,282.1 479.4,279.1 479.4,279.0 480.3,276.0 481.2,272.8 482.1,269.6 482.2,269.3 483.1,266.3 484.0,262.9 484.9,259.4 485.0,258.9 485.8,255.9 486.8,252.3 487.7,248.6 487.9,247.8 488.6,244.8 489.5,241.0 490.5,237.0 490.7,235.9 491.4,233.0 492.3,228.9 493.2,224.8 493.6,223.2 494.2,220.5 495.1,216.2 496.0,211.8 496.4,209.9 496.9,207.3 497.9,202.7 498.8,198.1 499.2,195.8 499.7,193.4 500.6,188.6 501.6,183.8 502.1,181.1 502.5,178.9 503.4,174.0 504.3,168.9 504.9,165.8 505.3,163.9 506.2,158.8 507.1,153.6 507.8,150.0 508.0,148.4 509.0,143.2 509.9,138.0 510.6,133.9 510.8,132.7 511.7,127.4 512.7,122.2 513.4,117.8 513.6,116.9 514.5,111.7 515.4,106.4 516.3,101.8 516.4,101.3 517.3,96.1 518.2,91.1 519.1,86.2 519.1,86.1 520.1,81.1 521.0,76.3 521.9,71.6 521.9,71.4 522.8,67.0 523.8,62.5 524.7,58.2 524.8,57.7 525.6,54.0 526.5,50.0 527.5,46.2 527.6,45.5 528.4,42.5 529.3,39.1 530.2,35.9 530.5,35.2 531.2,32.9 532.1,30.2 533.0,27.7 533.3,27.0 533.9,25.4 534.9,23.5 535.8,21.8 536.1,21.2 536.7,20.3 537.6,19.2 538.6,18.3 539.0,18.1 539.5,17.8 540.4,17.5 541.3,17.6 541.8,17.7 542.3,17.9 543.2,18.5 544.1,19.3 544.6,20.0 545.0,20.5 546.0,21.9 546.9,23.6 547.5,24.8 547.8,25.5 548.7,27.7 549.7,30.1 550.3,32.0 550.6,32.8 551.5,35.7 552.4,38.8 553.2,41.3 553.4,42.1 554.3,45.6 555.2,49.3 556.0,52.5 556.1,53.1 557.1,57.1 558.0,61.2 558.8,65.1 558.9,65.5 559.8,69.9 560.8,74.3 561.7,78.8 561.7,78.9 562.6,83.6 563.5,88.3 564.5,93.1 564.5,93.3 565.4,98.0 566.3,102.8 567.2,107.8 567.3,108.3 568.2,112.7 569.1,117.6 570.0,122.6 570.2,123.5 570.9,127.5 571.9,132.5 572.8,137.4 573.0,138.6 573.7,142.3 574.6,147.2 575.6,152.0 575.9,153.5 576.5,156.8 577.4,161.6 578.3,166.3 578.7,168.1 579.3,170.9 580.2,175.6 581.1,180.1 581.5,182.1 582.0,184.6 583.0,189.0 583.9,193.4 584.4,195.6 584.8,197.7 585.7,201.9 586.7,206.1 587.2,208.5 587.6,210.2 588.5,214.2 589.4,218.1 590.0,220.7 590.4,222.0 591.3,225.9 592.2,229.6 592.9,232.3 593.1,233.3 594.1,236.9 595.0,240.4 595.7,243.2 595.9,243.9 596.8,247.3 597.8,250.6 598.6,253.4 598.7,253.9 599.6,257.1 600.5,260.2 601.4,263.1 601.5,263.3 602.4,266.3 603.3,269.3 604.2,272.1 604.2,272.1 605.2,275.0 606.1,277.7 607.0,280.5 607.1,280.6 607.9,283.1 608.9,285.7 609.8,288.2 609.9,288.6 610.7,290.7 611.6,293.2 612.6,295.5 612.7,296.0 613.5,297.9 614.4,300.2 615.3,302.4 615.6,303.0 616.3,304.6 617.2,306.7 618.1,308.8 618.4,309.5 619.0,310.9 620.0,312.9 620.9,314.9 621.3,315.6 621.8,316.8 622.7,318.7 623.7,320.5 624.1,321.4 624.6,322.3 625.5,324.1 626.4,325.8 626.9,326.7 627.4,327.5 628.3,329.2 629.2,330.8 629.8,331.8 630.1,332.4 631.1,334.0 632.0,335.5 632.6,336.5 632.9,337.0 633.8,338.5 634.8,340.0 635.5,341.0 635.7,341.4 636.6,342.8 637.5,344.1 638.3,345.2 638.5,345.4 639.4,346.8 641.1,349.1 644.0,352.8 646.8,356.3 649.6,359.6 652.5,362.8 655.3,365.7 658.2,368.5 661.0,371.2 663.8,373.7 666.7,376.1 669.5,378.3 672.3,380.5 675.2,382.5 678.0,384.4 680.9,386.3 683.7,388.1 686.5,389.8 689.4,391.4 692.2,392.9 695.0,394.4 697.9,395.8 700.7,397.1 703.6,398.4 706.4,399.7 709.2,400.9 712.1,402.0 714.9,403.1 717.7,404.2 720.6,405.2 723.4,406.1 726.3,407.1 729.1,408.0 731.9,408.9 734.8,409.7 737.6,410.5 740.4,411.3 743.3,412.1 746.1,412.8 749.0,413.5 751.8,414.2 754.6,414.9 757.5,415.5 760.3,416.1 763.2,416.7 766.0,417.3 768.8,417.9 771.7,418.4 774.5,419.0 777.3,419.5 780.2,420.0 783.0,420.5 785.9,420.9 788.7,421.4 791.5,421.9 794.4,422.3 797.2,422.7 800.0,423.1 802.9,423.5 805.7,423.9 808.6,424.3 811.4,424.7 814.2,425.0 817.1,425.4 819.9,425.7 822.7,426.1 825.6,426.4 828.4,426.7 831.3,427.0 834.1,427.3 836.9,427.6 839.8,427.9 842.6,428.2 845.4,428.4 848.3,428.7 851.1,429.0 854.0,429.2 856.8,429.5 859.6,429.7 862.5,430.0 865.3,430.2 868.2,430.4 871.0,430.6 873.8,430.9 876.7,431.1 879.5,431.3 882.3,431.5 885.2,431.7 888.0,431.9 890.9,432.1 893.7,432.3 896.5,432.4 899.4,432.6 902.2,432.8 905.0,433.0 907.9,433.1 910.7,433.3 913.6,433.5 916.4,433.6 919.2,433.8 922.1,433.9 924.9,434.1 927.7,434.2 930.6,434.4 933.4,434.5 936.3,434.7 939.1,434.8 941.9,434.9 944.8,435.1 947.6,435.2 950.4,435.3 953.3,435.4 956.1,435.6 959.0,435.7 961.8,435.8 964.6,435.9 967.5,436.0 970.3,436.1 973.1,436.3 976.0,436.4 978.8,436.5 981.7,436.6 984.5,436.7" fill="none" stroke="#00ffff" stroke-width="4.6" stroke-linejoin="round"/>
<polyline points="136.0,420.5 138.8,420.5 141.7,420.5 144.5,420.5 147.4,420.5 150.2,420.5 153.0,420.5 155.9,420.5 158.7,420.5 161.5,420.5 164.4,420.5 167.2,420.5 170.1,420.5 172.9,420.5 175.7,420.5 178.6,420.5 181.4,420.5 184.2,420.5 187.1,420.5 189.9,420.5 192.8,420.5 195.6,420.5 198.4,420.5 201.3,420.5 204.1,420.5 206.9,420.5 209.8,420.5 212.6,420.5 215.5,420.5 218.3,420.5 221.1,420.5 224.0,420.5 226.8,420.5 229.6,420.5 232.5,420.5 235.3,420.5 238.2,420.5 241.0,420.5 243.8,420.5 246.7,420.5 249.5,420.5 252.3,420.5 255.2,420.5 258.0,420.5 260.9,420.5 263.7,420.5 266.5,420.5 269.4,420.3 272.2,420.1 275.1,419.9 277.9,419.7 280.7,419.4 283.6,419.2 286.4,419.0 289.2,418.7 292.1,418.5 294.9,418.2 297.8,417.9 300.6,417.6 303.4,417.3 306.3,417.0 309.1,416.7 311.9,416.4 314.8,416.0 317.6,415.7 320.5,415.3 323.3,415.0 326.1,414.6 329.0,414.1 331.8,413.7 334.6,413.3 337.5,412.8 340.3,412.3 343.2,411.8 346.0,411.3 348.8,410.8 351.7,410.2 354.5,409.6 357.3,409.0 360.2,408.4 363.0,407.7 365.9,407.0 368.7,406.2 371.5,405.5 374.4,404.7 377.2,403.8 380.1,402.9 382.9,402.0 385.7,401.0 388.6,399.9 391.4,398.8 394.2,397.7 397.1,396.5 399.9,395.2 402.8,393.8 405.6,392.4 408.4,390.9 411.3,389.3 414.1,387.5 416.9,385.7 419.8,383.8 422.6,381.8 425.5,379.6 428.3,377.3 431.1,374.8 434.0,372.2 436.8,369.3 439.6,366.3 442.5,363.1 445.3,359.7 448.2,356.0 451.0,352.0 453.8,347.7 455.3,345.4 456.2,343.9 456.7,343.2 457.2,342.4 458.1,340.8 459.0,339.2 459.5,338.2 459.9,337.5 460.9,335.8 461.8,334.1 462.3,333.0 462.7,332.3 463.6,330.4 464.6,328.6 465.2,327.3 465.5,326.7 466.4,324.7 467.3,322.7 468.0,321.1 468.3,320.6 469.2,318.5 470.1,316.4 470.9,314.6 471.0,314.2 472.0,311.9 472.9,309.6 473.7,307.5 473.8,307.2 474.7,304.8 475.7,302.3 476.5,299.8 476.6,299.7 477.5,297.1 478.4,294.4 479.4,291.7 479.4,291.6 480.3,288.9 481.2,286.0 482.1,283.1 482.2,282.8 483.1,280.1 484.0,277.0 484.9,273.8 485.0,273.3 485.8,270.6 486.8,267.3 487.7,264.0 487.9,263.2 488.6,260.5 489.5,257.0 490.5,253.4 490.7,252.4 491.4,249.8 492.3,246.0 493.2,242.2 493.6,240.8 494.2,238.3 495.1,234.3 496.0,230.3 496.4,228.5 496.9,226.1 497.9,221.9 498.8,217.7 499.2,215.5 499.7,213.3 500.6,208.9 501.6,204.4 502.1,201.8 502.5,199.8 503.4,195.2 504.3,190.4 504.9,187.5 505.3,185.7 506.2,180.8 507.1,176.0 507.8,172.5 508.0,171.0 509.0,166.0 509.9,161.0 510.6,157.1 510.8,155.9 511.7,150.8 512.7,145.7 513.4,141.4 513.6,140.5 514.5,135.4 515.4,130.2 516.3,125.5 516.4,125.0 517.3,119.8 518.2,114.7 519.1,109.7 519.1,109.5 520.1,104.4 521.0,99.4 521.9,94.4 521.9,94.2 522.8,89.4 523.8,84.6 524.7,79.8 524.8,79.3 525.6,75.1 526.5,70.6 527.5,66.1 527.6,65.4 528.4,61.8 529.3,57.6 530.2,53.6 530.5,52.7 531.2,49.7 532.1,46.1 533.0,42.6 533.3,41.5 533.9,39.3 534.9,36.2 535.8,33.3 536.1,32.3 536.7,30.7 537.6,28.3 538.6,26.1 539.0,25.3 539.5,24.2 540.4,22.6 541.3,21.2 541.8,20.6 542.3,20.1 543.2,19.3 544.1,18.7 544.6,18.5 545.0,18.4 546.0,18.4 546.9,18.7 547.5,19.0 547.8,19.2 548.7,20.1 549.7,21.1 550.3,22.0 550.6,22.5 551.5,24.1 552.4,25.9 553.2,27.5 553.4,28.0 554.3,30.3 555.2,32.9 556.0,35.2 556.1,35.6 557.1,38.6 558.0,41.8 558.8,44.8 558.9,45.1 559.8,48.7 560.8,52.4 561.7,56.1 561.7,56.2 562.6,60.2 563.5,64.3 564.5,68.6 564.5,68.8 565.4,72.9 566.3,77.4 567.2,81.9 567.3,82.4 568.2,86.5 569.1,91.2 570.0,95.9 570.2,96.7 570.9,100.6 571.9,105.4 572.8,110.3 573.0,111.5 573.7,115.1 574.6,119.9 575.6,124.8 575.9,126.3 576.5,129.6 577.4,134.5 578.3,139.3 578.7,141.1 579.3,144.0 580.2,148.8 581.1,153.5 581.5,155.6 582.0,158.2 583.0,162.8 583.9,167.4 584.4,169.8 584.8,172.0 585.7,176.5 586.7,180.9 587.2,183.5 587.6,185.3 588.5,189.6 589.4,193.9 590.0,196.6 590.4,198.1 591.3,202.2 592.2,206.2 592.9,209.1 593.1,210.2 594.1,214.2 595.0,218.0 595.7,221.0 595.9,221.8 596.8,225.6 597.8,229.2 598.6,232.3 598.7,232.8 599.6,236.4 600.5,239.8 601.4,243.0 601.5,243.2 602.4,246.5 603.3,249.8 604.2,253.0 604.2,253.0 605.2,256.2 606.1,259.2 607.0,262.2 607.1,262.4 607.9,265.2 608.9,268.1 609.8,270.9 609.9,271.3 610.7,273.7 611.6,276.4 612.6,279.1 612.7,279.6 613.5,281.7 614.4,284.3 615.3,286.8 615.6,287.4 616.3,289.2 617.2,291.6 618.1,294.0 618.4,294.7 619.0,296.3 620.0,298.5 620.9,300.7 621.3,301.6 621.8,302.9 622.7,305.0 623.7,307.1 624.1,308.0 624.6,309.1 625.5,311.1 626.4,313.1 626.9,314.1 627.4,315.0 628.3,316.9 629.2,318.7 629.8,319.8 630.1,320.5 631.1,322.2 632.0,324.0 632.6,325.1 632.9,325.7 633.8,327.3 634.8,328.9 635.5,330.1 635.7,330.5 636.6,332.1 637.5,333.6 638.3,334.8 638.5,335.1 639.4,336.6 641.1,339.2 644.0,343.4 646.8,347.4 649.6,351.1 652.5,354.6 655.3,357.9 658.2,361.0 661.0,364.0 663.8,366.8 666.7,369.5 669.5,372.0 672.3,374.4 675.2,376.7 678.0,378.9 680.9,380.9 683.7,382.9 686.5,384.8 689.4,386.6 692.2,388.3 695.0,390.0 697.9,391.5 700.7,393.0 703.6,394.5 706.4,395.9 709.2,397.2 712.1,398.5 714.9,399.7 717.7,400.9 720.6,402.0 723.4,403.1 726.3,404.1 729.1,405.1 731.9,406.1 734.8,407.0 737.6,407.9 740.4,408.8 743.3,409.7 746.1,410.5 749.0,411.3 751.8,412.0 754.6,412.8 757.5,413.5 760.3,414.2 763.2,414.8 766.0,415.5 768.8,416.1 771.7,416.7 774.5,417.3 777.3,417.9 780.2,418.4 783.0,419.0 785.9,419.5 788.7,420.0 791.5,420.5 794.4,421.0 797.2,421.4 800.0,421.9 802.9,422.3 805.7,422.7 808.6,423.2 811.4,423.6 814.2,424.0 817.1,424.4 819.9,424.7 822.7,425.1 825.6,425.5 828.4,425.8 831.3,426.1 834.1,426.5 836.9,426.8 839.8,427.1 842.6,427.4 845.4,427.7 848.3,428.0 851.1,428.3 854.0,428.6 856.8,428.8 859.6,429.1 862.5,429.4 865.3,429.6 868.2,429.9 871.0,430.1 873.8,430.4 876.7,430.6 879.5,430.8 882.3,431.0 885.2,431.2 888.0,431.5 890.9,431.7 893.7,431.9 896.5,432.1 899.4,432.3 902.2,432.5 905.0,432.6 907.9,432.8 910.7,433.0 913.6,433.2 916.4,433.4 919.2,433.5 922.1,433.7 924.9,433.9 927.7,434.0 930.6,434.2 933.4,434.3 936.3,434.5 939.1,434.6 941.9,434.8 944.8,434.9 947.6,435.1 950.4,435.2 953.3,435.3 956.1,435.5 959.0,435.6 961.8,435.7 964.6,435.8 967.5,436.0 970.3,436.1 973.1,436.2 976.0,436.3 978.8,436.4 981.7,436.5 984.5,436.6" fill="none" stroke="#ff00ff" stroke-width="5.6" stroke-linejoin="round"/>
<polyline points="136.0,414.6 138.8,414.6 141.7,414.6 144.5,414.6 147.4,414.6 150.2,414.6 153.0,414.6 155.9,414.6 158.7,414.6 161.5,414.6 164.4,414.6 167.2,414.6 170.1,414.6 172.9,414.6 175.7,414.6 178.6,414.6 181.4,414.6 184.2,414.6 187.1,414.6 189.9,414.6 192.8,414.6 195.6,414.6 198.4,414.6 201.3,414.6 204.1,414.6 206.9,414.6 209.8,414.6 212.6,414.6 215.5,414.6 218.3,414.6 221.1,414.6 224.0,414.6 226.8,414.6 229.6,414.6 232.5,414.6 235.3,414.6 238.2,414.6 241.0,414.6 243.8,414.6 246.7,414.6 249.5,414.6 252.3,414.6 255.2,414.6 258.0,414.6 260.9,414.6 263.7,414.5 266.5,414.2 269.4,413.8 272.2,413.5 275.1,413.2 277.9,412.9 280.7,412.5 283.6,412.2 286.4,411.8 289.2,411.4 292.1,411.0 294.9,410.6 297.8,410.2 300.6,409.8 303.4,409.3 306.3,408.9 309.1,408.4 311.9,407.9 314.8,407.4 317.6,406.9 320.5,406.4 323.3,405.8 326.1,405.2 329.0,404.6 331.8,404.0 334.6,403.4 337.5,402.7 340.3,402.0 343.2,401.3 346.0,400.6 348.8,399.8 351.7,399.0 354.5,398.2 357.3,397.3 360.2,396.4 363.0,395.5 365.9,394.5 368.7,393.5 371.5,392.4 374.4,391.3 377.2,390.2 380.1,389.0 382.9,387.8 385.7,386.4 388.6,385.1 391.4,383.7 394.2,382.2 397.1,380.6 399.9,379.0 402.8,377.3 405.6,375.5 408.4,373.6 411.3,371.6 414.1,369.6 416.9,367.4 419.8,365.1 422.6,362.7 425.5,360.2 428.3,357.5 431.1,354.7 434.0,351.7 436.8,348.6 439.6,345.3 442.5,341.8 445.3,338.1 448.2,334.2 451.0,330.1 453.8,325.7 455.3,323.4 456.2,321.8 456.7,321.1 457.2,320.3 458.1,318.7 459.0,317.1 459.5,316.2 459.9,315.5 460.9,313.8 461.8,312.1 462.3,311.0 462.7,310.4 463.6,308.6 464.6,306.8 465.2,305.6 465.5,305.0 466.4,303.1 467.3,301.2 468.0,299.8 468.3,299.3 469.2,297.3 470.1,295.3 470.9,293.6 471.0,293.3 472.0,291.2 472.9,289.0 473.7,287.1 473.8,286.9 474.7,284.7 475.7,282.4 476.5,280.2 476.6,280.1 477.5,277.8 478.4,275.4 479.4,273.0 479.4,273.0 480.3,270.6 481.2,268.1 482.1,265.5 482.2,265.3 483.1,262.9 484.0,260.3 484.9,257.6 485.0,257.2 485.8,254.8 486.8,252.1 487.7,249.2 487.9,248.6 488.6,246.3 489.5,243.4 490.5,240.4 490.7,239.6 491.4,237.4 492.3,234.3 493.2,231.2 493.6,230.1 494.2,228.0 495.1,224.8 496.0,221.5 496.4,220.1 496.9,218.2 497.9,214.8 498.8,211.4 499.2,209.7 499.7,207.9 500.6,204.4 501.6,200.9 502.1,198.8 502.5,197.2 503.4,193.6 504.3,189.9 504.9,187.6 505.3,186.2 506.2,182.4 507.1,178.6 507.8,175.9 508.0,174.7 509.0,170.8 509.9,166.9 510.6,163.8 510.8,162.9 511.7,158.9 512.7,154.9 513.4,151.5 513.6,150.8 514.5,146.8 515.4,142.7 516.3,139.0 516.4,138.6 517.3,134.5 518.2,130.4 519.1,126.4 519.1,126.2 520.1,122.1 521.0,118.0 521.9,113.9 521.9,113.8 522.8,109.8 523.8,105.7 524.7,101.7 524.8,101.3 525.6,97.7 526.5,93.7 527.5,89.8 527.6,89.1 528.4,85.9 529.3,82.0 530.2,78.2 530.5,77.4 531.2,74.5 532.1,70.9 533.0,67.3 533.3,66.3 533.9,63.8 534.9,60.5 535.8,57.2 536.1,56.0 536.7,54.0 537.6,50.9 538.6,48.0 539.0,46.7 539.5,45.2 540.4,42.5 541.3,39.9 541.8,38.7 542.3,37.5 543.2,35.2 544.1,33.1 544.6,32.0 545.0,31.1 546.0,29.3 546.9,27.7 547.5,26.8 547.8,26.3 548.7,25.0 549.7,23.9 550.3,23.2 550.6,23.0 551.5,22.2 552.4,21.7 553.2,21.4 553.4,21.3 554.3,21.1 555.2,21.1 556.0,21.3 556.1,21.3 557.1,21.7 558.0,22.2 558.8,22.9 558.9,22.9 559.8,23.8 560.8,24.9 561.7,26.1 561.7,26.1 562.6,27.6 563.5,29.1 564.5,30.9 564.5,30.9 565.4,32.7 566.3,34.8 567.2,37.0 567.3,37.2 568.2,39.3 569.1,41.7 570.0,44.3 570.2,44.8 570.9,47.0 571.9,49.9 572.8,52.8 573.0,53.6 573.7,55.9 574.6,59.0 575.6,62.3 575.9,63.3 576.5,65.6 577.4,69.0 578.3,72.5 578.7,73.8 579.3,76.0 580.2,79.7 581.1,83.3 581.5,85.0 582.0,87.1 583.0,90.8 583.9,94.6 584.4,96.6 584.8,98.5 585.7,102.4 586.7,106.3 587.2,108.6 587.6,110.2 588.5,114.1 589.4,118.1 590.0,120.7 590.4,122.0 591.3,126.0 592.2,129.9 592.9,132.8 593.1,133.9 594.1,137.8 595.0,141.7 595.7,144.8 595.9,145.7 596.8,149.6 597.8,153.4 598.6,156.7 598.7,157.3 599.6,161.1 600.5,164.9 601.4,168.4 601.5,168.7 602.4,172.4 603.3,176.1 604.2,179.7 604.2,179.8 605.2,183.4 606.1,187.0 607.0,190.5 607.1,190.7 607.9,194.0 608.9,197.5 609.8,200.9 609.9,201.4 610.7,204.3 611.6,207.7 612.6,211.0 612.7,211.6 613.5,214.2 614.4,217.4 615.3,220.6 615.6,221.4 616.3,223.7 617.2,226.8 618.1,229.8 618.4,230.8 619.0,232.8 620.0,235.8 620.9,238.7 621.3,239.8 621.8,241.5 622.7,244.3 623.7,247.1 624.1,248.4 624.6,249.8 625.5,252.5 626.4,255.1 626.9,256.5 627.4,257.7 628.3,260.3 629.2,262.8 629.8,264.3 630.1,265.3 631.1,267.7 632.0,270.1 632.6,271.7 632.9,272.5 633.8,274.8 634.8,277.0 635.5,278.7 635.7,279.3 636.6,281.5 637.5,283.6 638.3,285.3 638.5,285.8 639.4,287.9 641.1,291.7 644.0,297.7 646.8,303.4 649.6,308.8 652.5,313.9 655.3,318.7 658.2,323.4 661.0,327.8 663.8,331.9 666.7,335.9 669.5,339.7 672.3,343.2 675.2,346.7 678.0,349.9 680.9,353.0 683.7,356.0 686.5,358.8 689.4,361.5 692.2,364.0 695.0,366.5 697.9,368.8 700.7,371.1 703.6,373.2 706.4,375.3 709.2,377.2 712.1,379.1 714.9,380.9 717.7,382.7 720.6,384.3 723.4,385.9 726.3,387.5 729.1,388.9 731.9,390.4 734.8,391.7 737.6,393.0 740.4,394.3 743.3,395.5 746.1,396.7 749.0,397.9 751.8,399.0 754.6,400.0 757.5,401.1 760.3,402.0 763.2,403.0 766.0,403.9 768.8,404.8 771.7,405.7 774.5,406.5 777.3,407.3 780.2,408.1 783.0,408.9 785.9,409.6 788.7,410.4 791.5,411.1 794.4,411.7 797.2,412.4 800.0,413.0 802.9,413.7 805.7,414.3 808.6,414.8 811.4,415.4 814.2,416.0 817.1,416.5 819.9,417.0 822.7,417.5 825.6,418.0 828.4,418.5 831.3,419.0 834.1,419.5 836.9,419.9 839.8,420.3 842.6,420.8 845.4,421.2 848.3,421.6 851.1,422.0 854.0,422.4 856.8,422.7 859.6,423.1 862.5,423.5 865.3,423.8 868.2,424.2 871.0,424.5 873.8,424.8 876.7,425.1 879.5,425.5 882.3,425.8 885.2,426.1 888.0,426.3 890.9,426.6 893.7,426.9 896.5,427.2 899.4,427.5 902.2,427.7 905.0,428.0 907.9,428.2 910.7,428.5 913.6,428.7 916.4,428.9 919.2,429.2 922.1,429.4 924.9,429.6 927.7,429.8 930.6,430.1 933.4,430.3 936.3,430.5 939.1,430.7 941.9,430.9 944.8,431.1 947.6,431.3 950.4,431.4 953.3,431.6 956.1,431.8 959.0,432.0 961.8,432.1 964.6,432.3 967.5,432.5 970.3,432.6 973.1,432.8 976.0,433.0 978.8,433.1 981.7,433.3 984.5,433.4" fill="none" stroke="#ff8020" stroke-width="4.5" stroke-linejoin="round"/>
</g>
<g id="frame"><rect x="131.0" y="7.5" width="858.0" height="6.0" fill="#000"/><rect x="131.0" y="467.6" width="858.0" height="6.4" fill="#000"/><rect x="131.0" y="7.5" width="5.5" height="466.5" fill="#000"/><rect x="983.7" y="7.5" width="5.3" height="466.5" fill="#000"/></g>
<g id="ticks"><rect x="138.95" y="473.0" width="1.5" height="7.5" fill="#000"/><rect x="191.45" y="473.0" width="1.7" height="13" fill="#000"/><rect x="244.15" y="473.0" width="1.5" height="7.5" fill="#000"/><rect x="296.65" y="473.0" width="1.7" height="13" fill="#000"/><rect x="349.35" y="473.0" width="1.5" height="7.5" fill="#000"/><rect x="401.85" y="473.0" width="1.7" height="13" fill="#000"/><rect x="454.55" y="473.0" width="1.5" height="7.5" fill="#000"/><rect x="507.05" y="473.0" width="1.7" height="13" fill="#000"/><rect x="559.75" y="473.0" width="1.5" height="7.5" fill="#000"/><rect x="612.25" y="473.0" width="1.7" height="13" fill="#000"/><rect x="664.95" y="473.0" width="1.5" height="7.5" fill="#000"/><rect x="717.45" y="473.0" width="1.7" height="13" fill="#000"/><rect x="770.15" y="473.0" width="1.5" height="7.5" fill="#000"/><rect x="822.65" y="473.0" width="1.7" height="13" fill="#000"/><rect x="875.35" y="473.0" width="1.5" height="7.5" fill="#000"/><rect x="927.85" y="473.0" width="1.7" height="13" fill="#000"/><rect x="980.55" y="473.0" width="1.5" height="7.5" fill="#000"/><rect x="119.5" y="465.15" width="12.5" height="1.7" fill="#000"/><rect x="125.5" y="420.40" width="6.5" height="1.5" fill="#000"/><rect x="119.5" y="375.45" width="12.5" height="1.7" fill="#000"/><rect x="125.5" y="330.70" width="6.5" height="1.5" fill="#000"/><rect x="119.5" y="285.75" width="12.5" height="1.7" fill="#000"/><rect x="125.5" y="241.00" width="6.5" height="1.5" fill="#000"/><rect x="119.5" y="196.05" width="12.5" height="1.7" fill="#000"/><rect x="125.5" y="151.30" width="6.5" height="1.5" fill="#000"/><rect x="119.5" y="106.35" width="12.5" height="1.7" fill="#000"/><rect x="125.5" y="61.60" width="6.5" height="1.5" fill="#000"/><rect x="119.5" y="16.65" width="12.5" height="1.7" fill="#000"/></g>
<g id="labels">
<text x="193.0" y="535.2" font-size="44.8" text-anchor="middle" letter-spacing="0.4">700</text>
<text x="298.2" y="535.2" font-size="44.8" text-anchor="middle" letter-spacing="0.4">720</text>
<text x="403.4" y="535.2" font-size="44.8" text-anchor="middle" letter-spacing="0.4">740</text>
<text x="508.6" y="535.2" font-size="44.8" text-anchor="middle" letter-spacing="0.4">760</text>
<text x="613.8" y="535.2" font-size="44.8" text-anchor="middle" letter-spacing="0.4">780</text>
<text x="719.0" y="535.2" font-size="44.8" text-anchor="middle" letter-spacing="0.4">800</text>
<text x="824.2" y="535.2" font-size="44.8" text-anchor="middle" letter-spacing="0.4">820</text>
<text x="929.4" y="535.2" font-size="44.8" text-anchor="middle" letter-spacing="0.4">840</text>
<text x="113" y="480.8" font-size="44.8" text-anchor="end">0</text>
<text x="113" y="391.1" font-size="44.8" text-anchor="end">0.2</text>
<text x="113" y="301.4" font-size="44.8" text-anchor="end">0.4</text>
<text x="113" y="211.7" font-size="44.8" text-anchor="end">0.6</text>
<text x="113" y="122.0" font-size="44.8" text-anchor="end">0.8</text>
<text x="113" y="32.3" font-size="44.8" text-anchor="end">1</text>
<text x="577.6" y="594" font-size="52.5" text-anchor="middle" letter-spacing="0.3">Wavelength (nm)</text>
<text transform="translate(41.6,244.2) rotate(-90) scale(1.011,1.05)" font-size="52" text-anchor="middle">Absorptance</text>
</g>
<g id="legend">
<rect x="717" y="48.9" width="53" height="3.6" fill="#000000"/>
<text x="783.8" y="65.9" font-size="41" textLength="21" lengthAdjust="spacingAndGlyphs">μ</text><text x="805.2" y="70.2" font-size="26">c</text><text transform="translate(821.8,64.9) scale(1.19,0.86)" font-size="41" stroke="#000" stroke-width="0.7">=</text><text x="856.6" y="65.9" font-size="41" letter-spacing="-0.3">1.4</text><text x="917.8" y="65.9" font-size="41" letter-spacing="-0.4">eV</text>
<rect x="717" y="96.0" width="53" height="4.2" fill="#ff0000"/>
<text x="783.8" y="113.3" font-size="41" textLength="21" lengthAdjust="spacingAndGlyphs">μ</text><text x="805.2" y="117.6" font-size="26">c</text><text transform="translate(821.8,112.3) scale(1.19,0.86)" font-size="41" stroke="#000" stroke-width="0.7">=</text><text x="856.6" y="113.3" font-size="41" letter-spacing="-0.3">1.3</text><text x="917.8" y="113.3" font-size="41" letter-spacing="-0.4">eV</text>
<rect x="717" y="143.3" width="53" height="4.4" fill="#00ff40"/>
<text x="783.8" y="160.7" font-size="41" textLength="21" lengthAdjust="spacingAndGlyphs">μ</text><text x="805.2" y="165.0" font-size="26">c</text><text transform="translate(821.8,159.7) scale(1.19,0.86)" font-size="41" stroke="#000" stroke-width="0.7">=</text><text x="856.6" y="160.7" font-size="41" letter-spacing="-0.3">1.2</text><text x="917.8" y="160.7" font-size="41" letter-spacing="-0.4">eV</text>
<rect x="717" y="190.7" width="53" height="4.4" fill="#2800d8"/>
<text x="783.8" y="208.1" font-size="41" textLength="21" lengthAdjust="spacingAndGlyphs">μ</text><text x="805.2" y="212.4" font-size="26">c</text><text transform="translate(821.8,207.1) scale(1.19,0.86)" font-size="41" stroke="#000" stroke-width="0.7">=</text><text x="856.6" y="208.1" font-size="41" letter-spacing="-0.3">1.1</text><text x="917.8" y="208.1" font-size="41" letter-spacing="-0.4">eV</text>
<rect x="717" y="238.1" width="53" height="4.4" fill="#00ffff"/>
<text x="783.8" y="255.5" font-size="41" textLength="21" lengthAdjust="spacingAndGlyphs">μ</text><text x="805.2" y="259.8" font-size="26">c</text><text transform="translate(821.8,254.5) scale(1.19,0.86)" font-size="41" stroke="#000" stroke-width="0.7">=</text><text x="856.6" y="255.5" font-size="41" letter-spacing="-0.3">1.0</text><text x="917.8" y="255.5" font-size="41" letter-spacing="-0.4">eV</text>
<rect x="717" y="285.7" width="53" height="4.0" fill="#ff00ff"/>
<text x="783.8" y="302.9" font-size="41" textLength="21" lengthAdjust="spacingAndGlyphs">μ</text><text x="805.2" y="307.2" font-size="26">c</text><text transform="translate(821.8,301.9) scale(1.19,0.86)" font-size="41" stroke="#000" stroke-width="0.7">=</text><text x="856.6" y="302.9" font-size="41" letter-spacing="-0.3">0.9</text><text x="917.8" y="302.9" font-size="41" letter-spacing="-0.4">eV</text>
<rect x="717" y="333.2" width="53" height="3.8" fill="#ff8020"/>
<text x="783.8" y="350.3" font-size="41" textLength="21" lengthAdjust="spacingAndGlyphs">μ</text><text x="805.2" y="354.6" font-size="26">c</text><text transform="translate(821.8,349.3) scale(1.19,0.86)" font-size="41" stroke="#000" stroke-width="0.7">=</text><text x="856.6" y="350.3" font-size="41" letter-spacing="-0.3">0.8</text><text x="917.8" y="350.3" font-size="41" letter-spacing="-0.4">eV</text>
</g>
</g></g>
</svg>
</body></html>
